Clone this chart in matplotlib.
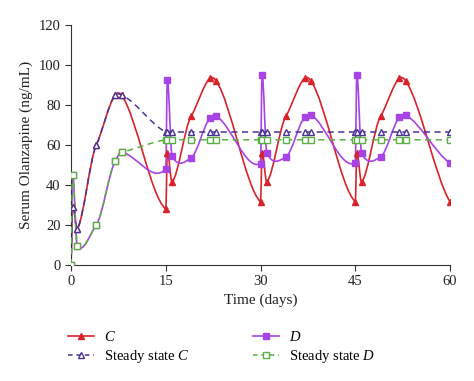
import numpy as np
import matplotlib.pyplot as plt
from matplotlib.path import Path
from matplotlib.patches import PathPatch
from matplotlib.lines import Line2D

plt.rcParams['font.family'] = ['Liberation Serif', 'DejaVu Serif']
plt.rcParams['mathtext.fontset'] = 'custom'
plt.rcParams['mathtext.it'] = 'Liberation Serif:italic'

# time points (days)
t_c = [0, 0.25, 1, 4, 7, 8, 15, 15.25, 16, 19, 22, 23, 30, 30.25, 31, 34, 37, 38,
       45, 45.25, 46, 49, 52, 53, 60]
conc_c = [0, 29, 18, 60, 85, 85, 28, 56, 41.5, 74.3, 93.4, 92, 31.6, 56, 41.5, 74.3, 93.4, 92,
          31.6, 56, 41.5, 74.3, 93.4, 92, 31.6]

t_d = t_c
conc_d = [0, 45, 9.3, 20, 52, 56.3, 47.8, 92.7, 54.5, 53.5, 73.4, 74.4, 50.7, 95.2, 56, 54, 73.9, 75,
          51, 95.2, 56, 54, 73.9, 75, 51]

ss_c = [0, 29, 18, 60, 85, 85] + [66.5] * 19
ss_d = [0, 45, 9.3, 20, 52, 56.3] + [62.6] * 19

red = '#d9232a'
purple = '#a843e6'
navy = '#4a3296'
green = '#5bb043'


def smooth_path(x, y, tension=0.6):
    # x-monotone cubic Hermite with damped Catmull-Rom slopes, as Bezier segments
    x = np.asarray(x, float)
    y = np.asarray(y, float)
    n = len(x)
    d = np.zeros(n)
    for i in range(1, n - 1):
        d[i] = tension * (y[i + 1] - y[i - 1]) / (x[i + 1] - x[i - 1])
    d[0] = tension * (y[1] - y[0]) / (x[1] - x[0])
    d[-1] = tension * (y[-1] - y[-2]) / (x[-1] - x[-2])
    verts = [(x[0], y[0])]
    codes = [Path.MOVETO]
    for i in range(n - 1):
        h = x[i + 1] - x[i]
        verts += [(x[i] + h / 3, y[i] + d[i] * h / 3),
                  (x[i + 1] - h / 3, y[i + 1] - d[i + 1] * h / 3),
                  (x[i + 1], y[i + 1])]
        codes += [Path.CURVE4] * 3
    return Path(verts, codes)


fig = plt.figure(figsize=(4.74, 3.81), dpi=100)
ax = fig.add_axes([71 / 474, 1 - 265 / 381, 379 / 474, 240 / 381])

ax.add_patch(PathPatch(smooth_path(t_c, conc_c), fill=False, color=red, lw=1.2, zorder=2))
ax.add_patch(PathPatch(smooth_path(t_d, conc_d), fill=False, color=purple, lw=1.2, zorder=2))
ax.add_patch(PathPatch(smooth_path(t_c, ss_c), fill=False, color=navy, lw=1.1,
                       linestyle=(0, (4, 3)), zorder=3))
ax.add_patch(PathPatch(smooth_path(t_d, ss_d), fill=False, color=green, lw=1.1,
                       linestyle=(0, (4, 3)), zorder=3))

ax.plot(t_c, conc_c, ls='none', marker='^', ms=5, color=red, zorder=4)
ax.plot(t_d, conc_d, ls='none', marker='s', ms=4.5, color=purple, zorder=4)
ax.plot(t_c, ss_c, ls='none', marker='^', ms=5, mfc='white', mec=navy, mew=1, zorder=5)
ax.plot(t_d, ss_d, ls='none', marker='s', ms=4.5, mfc='white', mec=green, mew=1, zorder=5)

ax.set_xlim(0, 60)
ax.set_ylim(0, 120)
ax.set_xticks([0, 15, 30, 45, 60])
ax.set_yticks(range(0, 121, 20))
ax.spines['top'].set_visible(False)
ax.spines['right'].set_visible(False)
for s in ['left', 'bottom']:
    ax.spines[s].set_color('#333333')
ax.tick_params(direction='out', length=4, color='#333333', labelsize=10.5, labelcolor='#222222')
ax.set_xlabel('Time (days)', fontsize=11, color='#222222')
ax.set_ylabel('Serum Olanzapine (ng/mL)', fontsize=11, color='#222222')

handles = [
    Line2D([], [], color=red, lw=1.2, marker='^', ms=5),
    Line2D([], [], color=navy, lw=1.1, ls=(0, (3, 2.5)), marker='^', ms=5, mfc='white', mew=1),
    Line2D([], [], color=purple, lw=1.2, marker='s', ms=4.5),
    Line2D([], [], color=green, lw=1.1, ls=(0, (3, 2.5)), marker='s', ms=4.5, mfc='white', mew=1),
]
labels = ['$C$', 'Steady state $C$', '$D$', 'Steady state $D$']
fig.legend(handles, labels, loc='upper left', bbox_to_anchor=(68 / 474, 1 - 330 / 381),
           ncol=2, frameon=False, fontsize=10.5, handlelength=1.8, handletextpad=0.7,
           columnspacing=4.3, labelspacing=0.3, borderpad=0, borderaxespad=0)

fig.savefig('out.png', dpi=100)
